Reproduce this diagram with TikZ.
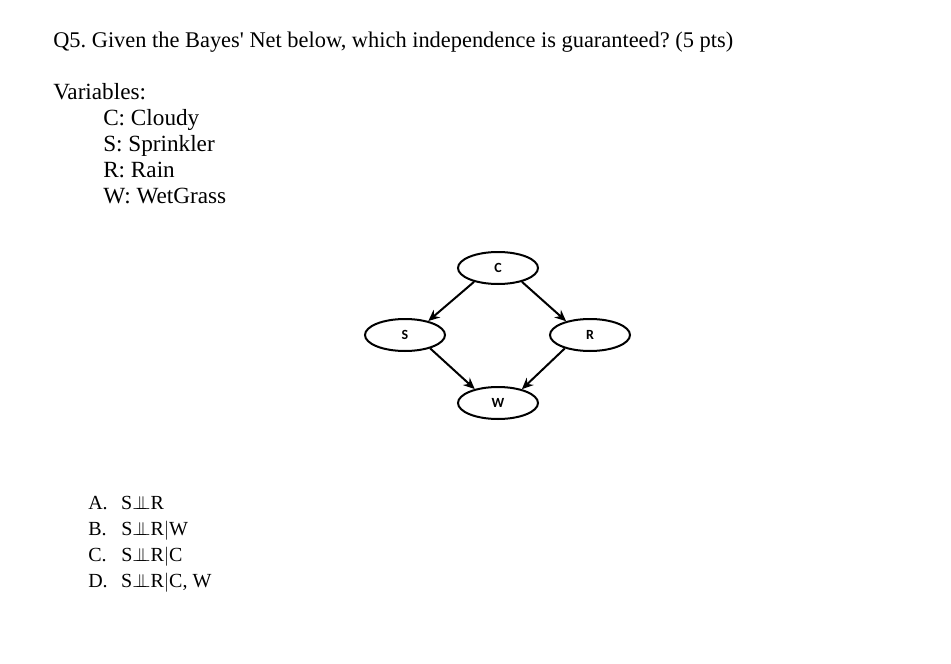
\documentclass[tikz,border=0pt]{standalone}
\usepackage{fontspec}
\setmainfont{Liberation Serif}
\newfontfamily\varfont{Carlito}
\usetikzlibrary{shapes.geometric,arrows.meta}
\newcommand{\indep}{{\perp\mkern-11mu\perp}}
\newcommand{\optlabel}[1]{\makebox[1.65em][l]{#1}}
\frenchspacing

\tikzset{
	var/.style={ellipse, draw, line width=1.5pt, minimum width=60pt, minimum height=24pt, inner sep=0pt, font=\varfont\bfseries\fontsize{10.5}{10.5}\selectfont},
	edge/.style={line width=1.5pt, -{Stealth[length=8.5pt,width=7.5pt]}},
	txt/.style={anchor=base west, inner sep=0pt, font=\fontsize{15}{18}\selectfont},
	bigtxt/.style={txt, font=\fontsize{17.4}{20}\selectfont}
}

\begin{document}
\begin{tikzpicture}[x=0.75pt, y=-0.75pt]
		%%%%% START %%%%%
		\useasboundingbox (0, 0) rectangle (951, 664);
		
		\node[txt, font=\fontsize{16.8}{20}\selectfont] (title) at (53, 47) {Q5. Given the Bayes\textquotesingle{} Net below, which independence is guaranteed? (5 pts)};
		
		\node[bigtxt] (vars) at (53, 99) {Variables:};
		\node[bigtxt] (vc) at (103, 125) {C: Cloudy};
		\node[bigtxt] (vs) at (103, 151) {S: Sprinkler};
		\node[bigtxt] (vr) at (103, 177) {R: Rain};
		\node[bigtxt] (vw) at (103, 203) {W: WetGrass};
		
		\node[var] (c) at (498, 268) {C};
		\node[var] (s) at (405, 335) {S};
		\node[var] (r) at (590, 335) {R};
		\node[var] (w) at (498, 403) {W};
		
		\draw[edge] (c.-150) -- (s.31);
		\draw[edge] (c.-30) -- (r.150);
		\draw[edge] (s.-28) -- (w.149);
		\draw[edge] (r.-152) -- (w.30);
		
		\node[txt] (a) at (88, 509) {\optlabel{A.}S$\indep$R};
		\node[txt] (b) at (88, 535) {\optlabel{B.}S$\indep$R$|$W};
		\node[txt] (cc) at (88, 561) {\optlabel{C.}S$\indep$R$|$C};
		\node[txt] (d) at (88, 587) {\optlabel{D.}S$\indep$R$|$C, W};
		%%%%% END %%%%%
\end{tikzpicture}
\end{document}
